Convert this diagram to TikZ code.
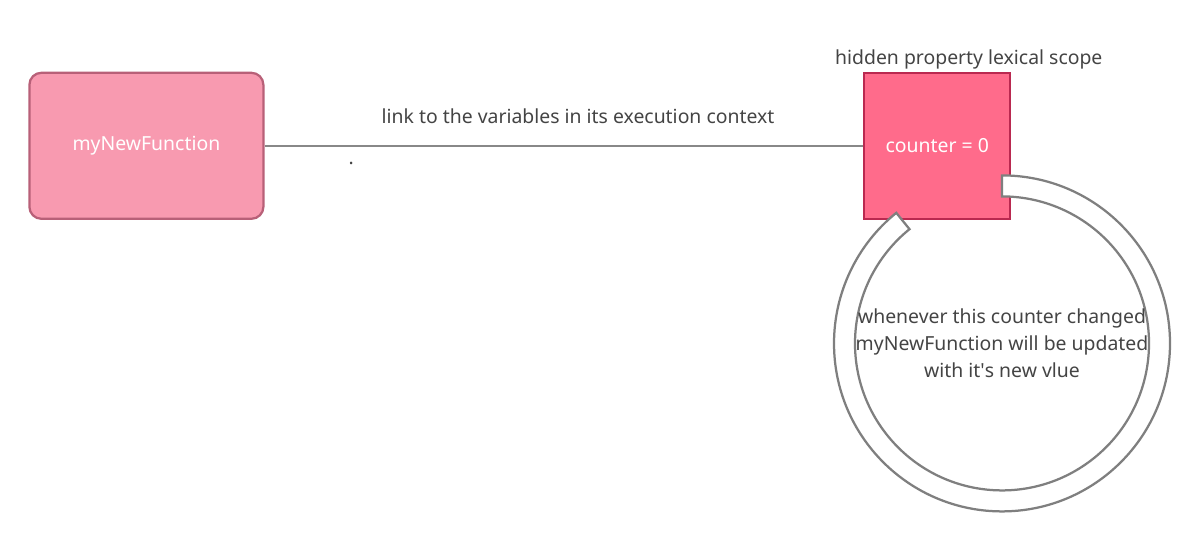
\documentclass[tikz,border=0pt]{standalone}
\usepackage{fontspec}
\setmainfont{Noto Sans}
\usetikzlibrary{positioning}

\definecolor{fnfill}{HTML}{F89AB0}
\definecolor{fnline}{HTML}{B86078}
\definecolor{scopefill}{HTML}{FF6B8B}
\definecolor{scopeline}{HTML}{BA2950}
\definecolor{linkgray}{HTML}{888888}
\definecolor{ringgray}{HTML}{7F7F7F}
\definecolor{txtgray}{HTML}{444444}

\tikzset{
  fnbox/.style={draw=fnline, fill=fnfill, line width=1.6pt, rounded corners=0.3cm,
    minimum width=5.85cm, minimum height=3.65cm, text=white},
  scopebox/.style={draw=scopeline, fill=scopefill, line width=1.6pt,
    minimum width=3.65cm, minimum height=3.65cm, text=white},
  lbl/.style={text=txtgray}
}

\begin{document}
\begin{tikzpicture}[font=\fontsize{13.8}{19}\selectfont]
        \useasboundingbox (0,0) rectangle (30,13.525);

        \node[fnbox] (MyNewFunction) at (3.66, 9.88) {myNewFunction};
        \node[scopebox] (Counter) at (23.43, 9.88) {counter = 0};
        \node[lbl] (LinkLabel) at (14.45, 10.62) {link to the variables in its execution context};
        \node[lbl] (ScopeLabel) at (24.22, 12.05) {hidden property lexical scope};
        \node[lbl, inner sep=0pt] (Dot) at (8.78, 9.45) {.};

        \draw[linkgray, line width=1.8pt] (MyNewFunction) to (Counter);

        % ring drawn over the box
        \coordinate (RingCenter) at (25.05, 4.94);
        \filldraw[draw=ringgray, fill=white, line width=1.6pt, line join=miter]
          (RingCenter) ++(90:4.2) arc[start angle=90, end angle=-231, radius=4.2]
          -- ++(-51:0.525) arc[start angle=-231, end angle=90, radius=3.675] -- cycle;
        \node[lbl, align=center] (UpdateNote) at (RingCenter)
          {whenever this counter changed\\myNewFunction will be updated\\with it\textquotesingle s new vlue};
    \end{tikzpicture}
\end{document}
